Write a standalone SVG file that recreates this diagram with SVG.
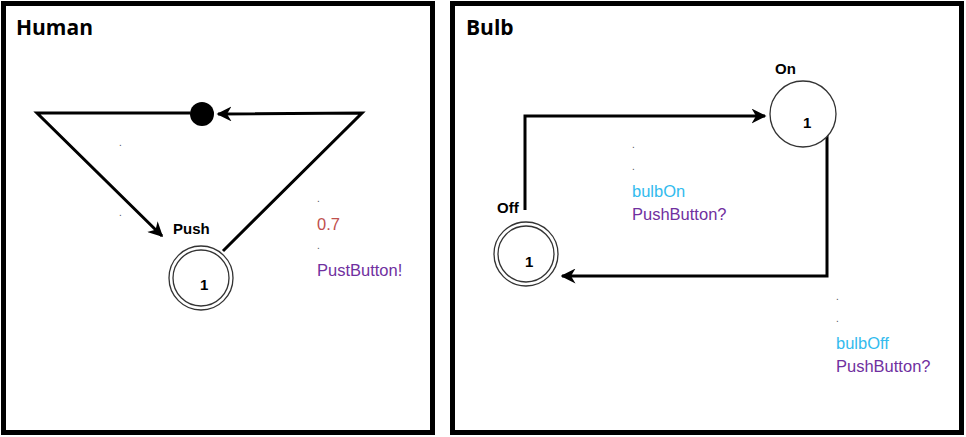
<svg xmlns="http://www.w3.org/2000/svg" width="966" height="437" viewBox="0 0 966 437">
<style>
.panel{fill:#fff;stroke:#000;stroke-width:5}
.title{font-family:"Open Sans","Liberation Sans",sans-serif;font-weight:bold;font-size:21px;fill:#000}
.lbl{font-family:"Liberation Sans",Arial,sans-serif;font-weight:bold;font-size:15px;fill:#000}
.t{font-family:"Liberation Sans",Arial,sans-serif;font-size:16.5px}
.dot{font-family:"Liberation Sans",Arial,sans-serif;font-size:10px;fill:#555}
.edge{fill:none;stroke:#000;stroke-width:3}
.st{fill:#fff;stroke:#333;stroke-width:1.3}
</style>
<defs>
<marker id="ar" viewBox="0 0 10 10" refX="9" refY="5" markerWidth="5" markerHeight="5" orient="auto" markerUnits="strokeWidth">
<path d="M0,0 L10,5 L0,10 L3,5 Z" fill="#000"/>
</marker>
</defs>
<rect class="panel" x="3.5" y="3.5" width="429" height="429"/>
<rect class="panel" x="452.5" y="3.5" width="509" height="429"/>
<text class="title" x="16" y="35">Human</text>
<text class="title" x="466" y="35">Bulb</text>
<g id="connectors">
<path class="edge" d="M190,113 L37,113 L162,236" marker-end="url(#ar)"/>
<path class="edge" d="M223,251 L362,113 L218,114" marker-end="url(#ar)"/>
<path class="edge" d="M525,210 L525,116 L765,116" marker-end="url(#ar)"/>
<path class="edge" d="M827,130 L827,276 L562,276" marker-end="url(#ar)"/>
</g>
<g id="init"><circle cx="202" cy="114" r="12" fill="#000"/></g>
<g id="push">
<circle class="st" cx="201" cy="278" r="32"/>
<circle class="st" cx="201" cy="278" r="28"/>
<text class="lbl" x="173" y="234">Push</text>
<text class="lbl" x="200" y="290">1</text>
</g>
<g id="off">
<circle class="st" cx="526" cy="254" r="32"/>
<circle class="st" cx="526" cy="254" r="28"/>
<text class="lbl" x="497" y="213">Off</text>
<text class="lbl" x="525" y="267">1</text>
</g>
<g id="on">
<circle class="st" cx="803" cy="114" r="33"/>
<text class="lbl" x="775" y="74">On</text>
<text class="lbl" x="803" y="128">1</text>
</g>
<g id="labels">
<text class="dot" x="119" y="146">.</text>
<text class="dot" x="119" y="216">.</text>
<text class="dot" x="317" y="202">.</text>
<text class="t" x="317" y="230" fill="#c0504d">0.7</text>
<text class="dot" x="317" y="249">.</text>
<text class="t" x="317" y="276" fill="#7030a0">PustButton!</text>
<text class="dot" x="632" y="148">.</text>
<text class="dot" x="632" y="170">.</text>
<text class="t" x="632" y="197" fill="#33bbee">bulbOn</text>
<text class="t" x="632" y="220" fill="#7030a0">PushButton?</text>
<text class="dot" x="836" y="300">.</text>
<text class="dot" x="836" y="322">.</text>
<text class="t" x="836" y="349" fill="#33bbee">bulbOff</text>
<text class="t" x="836" y="372" fill="#7030a0">PushButton?</text>
</g>
</svg>
